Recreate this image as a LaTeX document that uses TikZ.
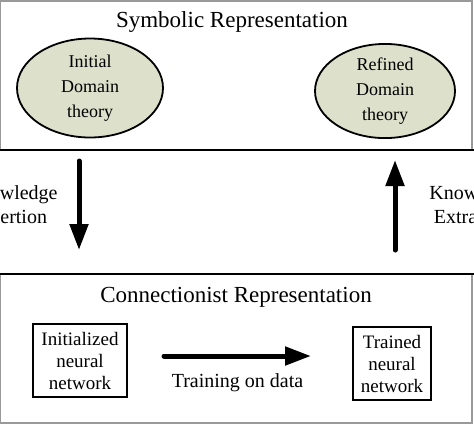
\documentclass[tikz,border=0pt]{standalone}
\usepackage{fontspec}
\setmainfont{Liberation Serif}
\usetikzlibrary{shapes.geometric, arrows.meta, positioning}
\definecolor{theorygreen}{HTML}{DDE0CB}

\begin{document}
\begin{tikzpicture}[
	x=0.5pt, y=-0.5pt,
	title/.style={font=\fontsize{11.5}{13}\selectfont},
	theory/.style={ellipse, draw, line width=0.9pt, fill=theorygreen, inner sep=0pt, align=center, font=\fontsize{9}{12.5}\selectfont},
	network/.style={rectangle, draw, line width=0.9pt, inner sep=0pt, align=center, font=\fontsize{9.5}{11}\selectfont},
	label/.style={align=center, font=\fontsize{10}{12}\selectfont},
	arrow/.style={-{Triangle[length=13pt, width=9pt]}, line width=2.5pt, line cap=round},
	frame/.style={draw=black!40, line width=0.8pt}
	]
	\useasboundingbox (0,0) rectangle (474,425);
	\clip (0,0) rectangle (474,425);
	
	% Panels
	\draw[frame] (0,150) -- (0,1) -- (472,1) -- (472,150);
	\draw[line width=1pt] (0,150) -- (474,150);
	\draw[frame] (0,274) -- (0,423) -- (472,423) -- (472,274);
	\draw[line width=1pt] (0,274) -- (474,274);
	
	% Nodes
	\node (Symbolic) [title] at (232,22) {Symbolic Representation};
	\node (InitTheory) [theory, minimum width=73pt, minimum height=49.5pt] at (90,88) {Initial\\Domain\\theory};
	\node (RefTheory) [theory, minimum width=70pt, minimum height=46pt] at (385,91) {Refined\\Domain\\theory};
	\node (Connectionist) [title] at (236,297) {Connectionist Representation};
	\node (InitNet) [network, minimum width=47pt, minimum height=36.5pt] at (80,360.5) {Initialized\\neural\\network};
	\node (TrainNet) [network, minimum width=39pt, minimum height=36.5pt] at (392,363.5) {Trained\\neural\\network};
	\node (Insertion) [label] at (11.5,205) {Knowledge\\Insertion};
	\node (Extraction) [label] at (475.5,205) {Knowledge\\Extraction};
	
	% Arrow ends
	\coordinate (InsTop) at (79,161);
	\coordinate (InsBot) at (79,250);
	\coordinate (ExtBot) at (395,250);
	\coordinate (ExtTop) at (395,160);
	\coordinate (TrainL) at (164,356);
	\coordinate (TrainR) at (311,356);
	
	% Arrows
	\draw[arrow] (InsTop) -- (InsBot);
	\draw[arrow] (ExtBot) -- (ExtTop);
	\draw[arrow] (TrainL) -- node[label, below=4pt] (Training) {Training on data} (TrainR);
	
\end{tikzpicture}
\end{document}
